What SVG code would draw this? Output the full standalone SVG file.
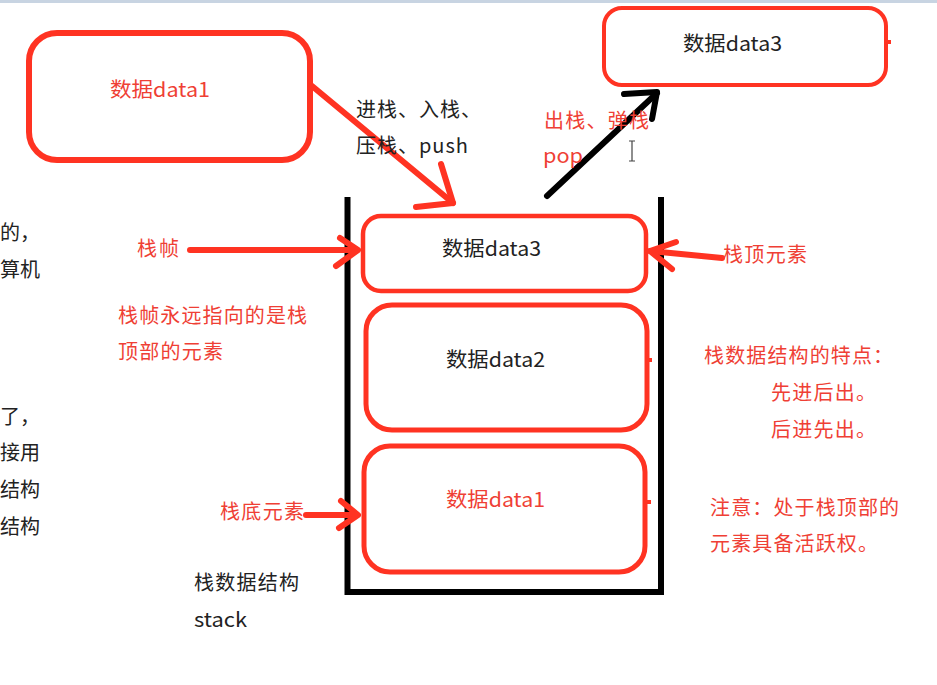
<svg xmlns="http://www.w3.org/2000/svg" width="937" height="685" viewBox="0 0 937 685">
<style>
.box{fill:none;stroke:#ff3322;stroke-linejoin:round}
.red{fill:#ef3f35}
.blk{fill:#222}
text{font-family:"Noto Sans CJK SC","Open Sans",sans-serif;font-size:20px}
.ra{fill:none;stroke:#ff3322;stroke-width:6;stroke-linecap:round;stroke-linejoin:round}
.ba{fill:none;stroke:#000;stroke-width:6;stroke-linecap:round;stroke-linejoin:round}
</style>
<rect x="0" y="0" width="937" height="685" fill="#fff"/>
<rect x="0" y="0" width="937" height="3" fill="#c8d4e2"/>

<g id="left-clipped-text" class="blk">
<text x="0" y="240">的，</text>
<text x="0" y="277">算机</text>
<text x="0" y="424">了，</text>
<text x="0" y="460">接用</text>
<text x="0" y="497">结构</text>
<text x="0" y="534">结构</text>
</g>

<g id="node-data1-source">
<rect class="box" x="29" y="33" width="281" height="127" rx="28" stroke-width="6"/>
<text class="red" x="110" y="97" textLength="100" lengthAdjust="spacingAndGlyphs">数据data1</text>
</g>

<g id="node-data3-popped">
<rect class="box" x="604" y="8" width="282" height="77" rx="18" stroke-width="4"/>
<line x1="886" y1="42" x2="891" y2="42" stroke="#ff3322" stroke-width="4"/>
<text class="blk" x="683" y="51" textLength="99" lengthAdjust="spacingAndGlyphs">数据data3</text>
</g>

<g id="stack-container">
<path d="M347.5 197 V592 H661 V197" fill="none" stroke="#000" stroke-width="6"/>
</g>

<g id="node-stack-data3">
<rect class="box" x="363" y="216" width="283" height="75" rx="18" stroke-width="4.5"/>
<text class="blk" x="442" y="256" textLength="99" lengthAdjust="spacingAndGlyphs">数据data3</text>
</g>

<g id="node-stack-data2">
<rect class="box" x="366" y="305" width="281" height="125" rx="26" stroke-width="5"/>
<line x1="647" y1="360" x2="652" y2="360" stroke="#ff3322" stroke-width="4"/>
<text class="blk" x="446" y="367" textLength="99" lengthAdjust="spacingAndGlyphs">数据data2</text>
</g>

<g id="node-stack-data1">
<rect class="box" x="364" y="446" width="281" height="126" rx="26" stroke-width="5"/>
<line x1="645" y1="502" x2="651" y2="502" stroke="#ff3322" stroke-width="4"/>
<text class="red" x="446" y="507" textLength="99" lengthAdjust="spacingAndGlyphs">数据data1</text>
</g>

<g id="connectors">
<path class="ra" d="M312 86 L453 203"/>
<path class="ra" d="M441 164 L453 203 L416 207"/>
<path class="ba" d="M547 196 L657 93"/>
<path class="ba" d="M624 94 L657 92 L652 119"/>
<path class="ra" d="M190 250 L356 250"/>
<path class="ra" d="M340 238 L358 250 L336 266"/>
<path class="ra" d="M722 258 L650 251"/>
<path class="ra" d="M676 242 L650 251 L672 269"/>
<path class="ra" d="M306 515 L356 515"/>
<path class="ra" d="M341 501 L358 515 L339 528"/>
</g>

<g id="labels">
<text class="blk" x="356" y="117" textLength="125" lengthAdjust="spacing">进栈、入栈、</text>
<text class="blk" x="356" y="153" textLength="112" lengthAdjust="spacing">压栈、push</text>
<text class="red" x="544" y="128" textLength="105" lengthAdjust="spacing">出栈、弹栈</text>
<text class="red" x="543" y="163" textLength="40" lengthAdjust="spacingAndGlyphs">pop</text>
<text class="red" x="137" y="256" textLength="42" lengthAdjust="spacing">栈帧</text>
<text class="red" x="118" y="323" textLength="189" lengthAdjust="spacing">栈帧永远指向的是栈</text>
<text class="red" x="118" y="359" textLength="105" lengthAdjust="spacing">顶部的元素</text>
<text class="red" x="723" y="262" textLength="84" lengthAdjust="spacing">栈顶元素</text>
<text class="red" x="220" y="519" textLength="84" lengthAdjust="spacing">栈底元素</text>
<text class="red" x="704" y="363" textLength="189" lengthAdjust="spacing">栈数据结构的特点：</text>
<text class="red" x="771" y="400" textLength="105" lengthAdjust="spacing">先进后出。</text>
<text class="red" x="771" y="437" textLength="105" lengthAdjust="spacing">后进先出。</text>
<text class="red" x="710" y="515" textLength="189" lengthAdjust="spacing">注意：处于栈顶部的</text>
<text class="red" x="710" y="551" textLength="168" lengthAdjust="spacing">元素具备活跃权。</text>
<text class="blk" x="194" y="590" textLength="105" lengthAdjust="spacing">栈数据结构</text>
<text class="blk" x="194" y="627" textLength="53" lengthAdjust="spacingAndGlyphs">stack</text>
</g>

<g id="cursor" fill="none" stroke="#444" stroke-width="1.2">
<path d="M629 141 H635 M632 141 V161 M629 161 H635"/>
</g>
</svg>
